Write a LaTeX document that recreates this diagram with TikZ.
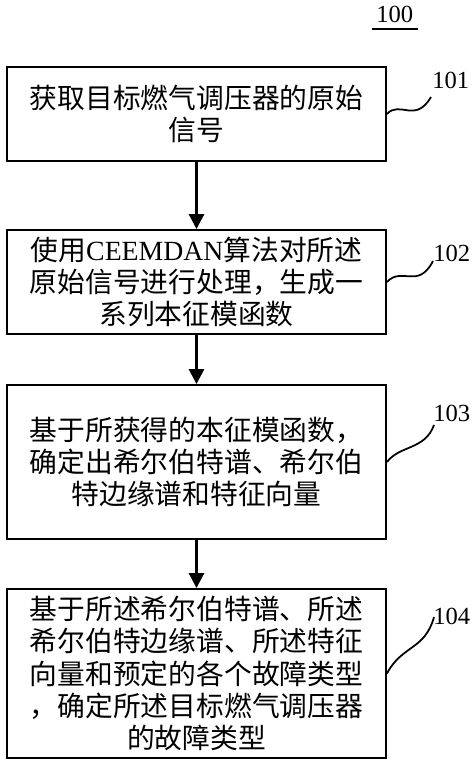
\documentclass[tikz,border=0pt]{standalone}
\usepackage{fontspec}
\setmainfont{Liberation Serif}
\newfontfamily\cjk{Noto Sans CJK SC}
\usetikzlibrary{calc,positioning,arrows.meta}

\begin{document}
\begin{tikzpicture}
        [x=0.02cm,y=-0.02cm,
        stepbox/.style={draw, line width=1.1pt, minimum width=7.58cm, align=center,
          inner sep=0pt, font=\cjk\fontsize{15.8}{18.4}\selectfont},
        refnum/.style={inner sep=0pt, anchor=south west, font=\fontsize{14}{14}\selectfont},
        flow/.style={->, line width=1.6pt, >={Triangle[length=0.3cm,width=0.3cm]}},
        wave/.style={line width=1pt}]
        \useasboundingbox (0,0) rectangle (474,766);
        %\draw[help lines] (0,0) grid (474,766);
        \node[refnum] (l100) at (376,23) {100};
        \draw[line width=1.2pt] ($(l100.south west)+(-4,6)$) -- ($(l100.south east)+(4,6)$);
        \node[stepbox, minimum height=1.88cm] (s1) at (196.5,114)
          {获取目标燃气调压器的原始\\信号};
        \node[stepbox, minimum height=2.08cm] (s2) at (196.5,282)
          {使用{\rmfamily CEEMDAN}算法对所述\\原始信号进行处理，生成一\\系列本征模函数};
        \node[stepbox, minimum height=3.08cm] (s3) at (196.5,462)
          {基于所获得的本征模函数，\\确定出希尔伯特谱、希尔伯\\特边缘谱和特征向量};
        \node[stepbox, minimum height=3.38cm] (s4) at (196.5,673.5)
          {基于所述希尔伯特谱、所述\\希尔伯特边缘谱、所述特征\\向量和预定的各个故障类型\\，确定所述目标燃气调压器\\的故障类型};
        \node[refnum] (l101) at (432,89) {101};
        \node[refnum] (l102) at (433,262) {102};
        \node[refnum] (l103) at (433,422) {103};
        \node[refnum] (l104) at (433,625) {104};
        \draw[flow] (s1.south) -- (s2.north);
        \draw[flow] (s2.south) -- (s3.north);
        \draw[flow] (s3.south) -- (s4.north);
        \draw[wave] (s1.east) .. controls (400,100) and (415,124) .. ($(l101.south west)+(-1,8)$);
        \draw[wave] (s2.east) .. controls (402,266) and (418,290) .. ($(l102.south west)+(0,-1)$);
        \draw[wave] (s3.east) .. controls (400,445) and (425,450) .. ($(l103.south west)+(1,3)$);
        \draw[wave] (s4.east) .. controls (402,645) and (425,650) .. ($(l104.south west)+(1,-8)$);
      \end{tikzpicture}
\end{document}
